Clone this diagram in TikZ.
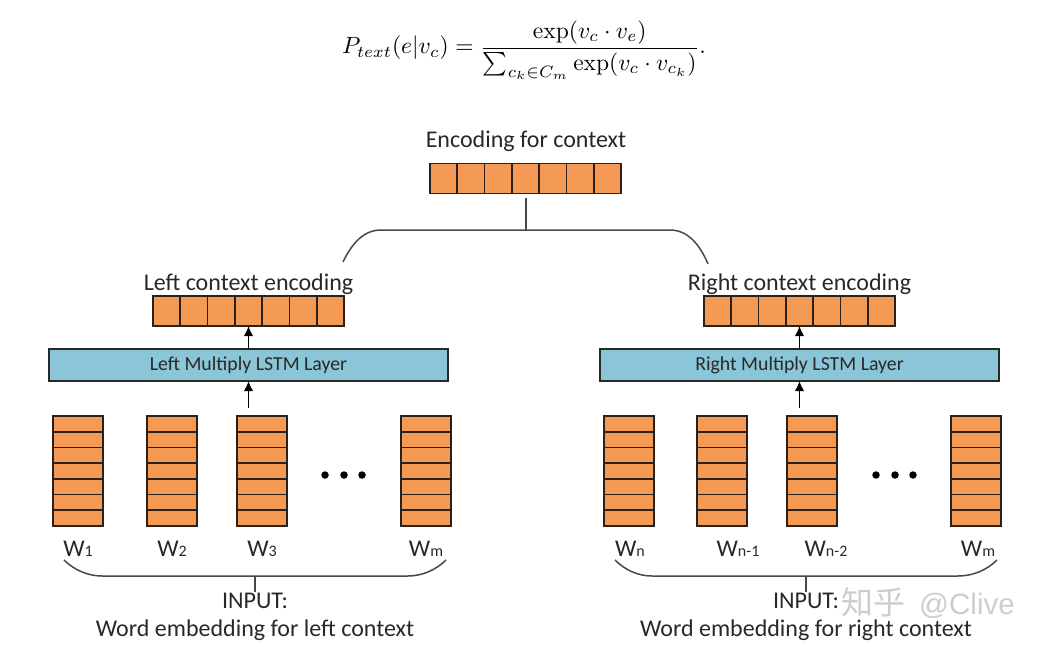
\documentclass[tikz,border=0pt]{standalone}
\usepackage[no-math]{fontspec}
\usepackage{graphicx}
\setmainfont{Carlito}
\newfontfamily\cjk{Noto Sans CJK SC}
\newfontfamily\wm{Liberation Sans}
\usetikzlibrary{arrows.meta,calc}
\definecolor{cellor}{RGB}{244,154,84}
\definecolor{layerb}{RGB}{139,197,216}
\definecolor{ink}{RGB}{40,40,40}
\definecolor{edgec}{RGB}{45,32,24}
\definecolor{wmc}{RGB}{205,205,205}
\newcommand{\sz}[1]{\fontsize{#1}{#1}\selectfont}
\tikzset{
  x=1pt,y=-1pt,
  hblock/.style={draw=edgec,fill=cellor,line width=1.6pt,minimum width=191pt,minimum height=30pt,inner sep=0pt,outer sep=0pt},
  vblock/.style={draw=edgec,fill=cellor,line width=1.6pt,minimum width=50pt,minimum height=110pt,inner sep=0pt,outer sep=0pt},
  layer/.style={draw=ink,fill=layerb,line width=1.4pt,minimum width=399pt,minimum height=32pt,inner sep=0pt,outer sep=0pt,text=ink,font=\sz{19.8}},
  lab/.style={text=ink,font=\sz{24},inner sep=0pt,anchor=base},
  wlab/.style={text=ink,font=\sz{24},inner sep=0pt,anchor=base},
  arr/.style={draw=black,line width=1.6pt,-{Latex[length=10pt,width=9.5pt]}},
  link/.style={draw=ink!85,line width=1.5pt},
  sep/.style={draw=edgec,line width=1.7pt},
  dot/.style={circle,fill=black,minimum size=7.5pt,inner sep=0pt},
}
\begin{document}
\begin{tikzpicture}
\useasboundingbox (0,0) rectangle (1041,647);
% formula
\node[inner sep=0pt,text=black] (formula) at (524,50) {\scalebox{2.35}{\normalsize\rmfamily $\displaystyle P_{text}(e|v_c)=\frac{\exp(v_c\cdot v_e)}{\sum_{c_k\in C_m}\exp(v_c\cdot v_{c_k})}.$}};
% horizontal blocks
\node[hblock] (top) at (525.5,178.5) {};
\node[hblock] (lenc) at (248.5,311) {};
\node[hblock] (renc) at (799.5,311) {};
\foreach \b in {top,lenc,renc}{
  \foreach \i in {1,...,6}{
    \draw[sep] ($(\b.north west)!\i/7!(\b.north east)$) -- ($(\b.south west)!\i/7!(\b.south east)$);
  }
}
% titles
\node[lab] (ttop) at (526,148) {Encoding for context};
\node[lab] (tl) at (248.5,290) {Left context encoding};
\node[lab] (tr) at (799.5,290) {Right context encoding};
% layers
\node[layer] (ll) at (248.5,365) {Left Multiply LSTM Layer};
\node[layer] (rl) at (799.5,365) {Right Multiply LSTM Layer};
% vertical blocks
\foreach \n/\x in {a/78,b/172,c/262,d/426,e/629,f/722,g/812,h/976}{
  \node[vblock] (\n) at (\x,471) {};
  \foreach \i in {1,...,6}{
    \draw[sep] ($(\n.north west)!\i/7!(\n.south west)$) -- ($(\n.north east)!\i/7!(\n.south east)$);
  }
}
% dots
\foreach \n/\x in {p1/325,p2/344,p3/362,q1/876,q2/895,q3/913}{
  \node[dot] (\n) at (\x,475) {};
}
% word labels
\node[wlab] (w1) at (78,556) {W{\sz{16}1}};
\node[wlab] (w2) at (172,556) {W{\sz{16}2}};
\node[wlab] (w3) at (262,556) {W{\sz{16}3}};
\node[wlab] (wm) at (426,556) {W{\sz{16}m}};
\node[wlab] (wn) at (630,556) {W{\sz{16}n}};
\node[wlab] (wn1) at (738,556) {W{\sz{16}n-1}};
\node[wlab] (wn2) at (826,556) {W{\sz{16}n-2}};
\node[wlab] (wm2) at (978,556) {W{\sz{16}m}};
% arrows
\coordinate (la) at (248.5,408);
\coordinate (ra) at (799.5,408);
\draw[arr] (ll.north) -- (lenc.south);
\draw[arr] (rl.north) -- (renc.south);
\draw[arr] (la) -- (ll.south);
\draw[arr] (ra) -- (rl.south);
% top connector
\coordinate (tstem) at (526,198);
\coordinate (tj) at (526,230);
\coordinate (tla) at (343,262);
\coordinate (tra) at (708,264);
\draw[link] (tstem) -- (tj);
\draw[link] (tla) .. controls (352,243) and (364,230) .. (381,230) -- (670,230) .. controls (688,230) and (700,245) .. (tra);
% braces
\coordinate (b1a) at (64,560);
\coordinate (b1b) at (446,560);
\coordinate (b1c) at (255,576);
\coordinate (b1d) at (255,592);
\draw[link] (b1a) .. controls (74,570) and (88,576) .. (102,576) -- (408,576) .. controls (422,576) and (436,570) .. (b1b);
\draw[link] (b1c) -- (b1d);
\coordinate (b2a) at (615,560);
\coordinate (b2b) at (997,560);
\coordinate (b2c) at (806,576);
\coordinate (b2d) at (806,592);
\draw[link] (b2a) .. controls (625,570) and (638,576) .. (652,576) -- (958,576) .. controls (973,576) and (987,570) .. (b2b);
\draw[link] (b2c) -- (b2d);
% input labels
\node[lab] (i1) at (255,608) {INPUT:};
\node[lab] (e1) at (255,636) {Word embedding for left context};
\node[lab] (i2) at (806,608) {INPUT:};
\node[lab] (e2) at (806,636) {Word embedding for right context};
% watermark
\node[text=wmc,font=\cjk\sz{32},inner sep=0pt,anchor=base west] (wm1) at (841,614) {知乎};
\node[text=wmc,font=\wm\sz{29.5},inner sep=0pt,anchor=base west] (wm3) at (919,614) {@Clive};
\end{tikzpicture}
\end{document}
